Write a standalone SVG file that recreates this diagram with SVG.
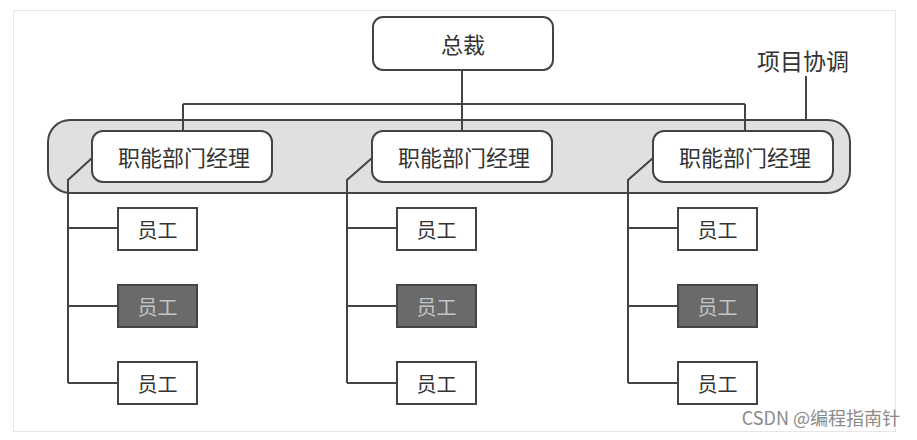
<svg xmlns="http://www.w3.org/2000/svg" width="917" height="440" viewBox="0 0 917 440">
<style>
.ln{stroke:#444;stroke-width:2;fill:none}
.bx{fill:#fff;stroke:#444;stroke-width:2}
.dk{fill:#6a6a6a;stroke:#444;stroke-width:2}
.t{font-family:"Noto Sans CJK SC","Noto Sans CJK JP",sans-serif;font-size:20px;fill:#333;text-anchor:middle;dominant-baseline:central}
.big{font-size:22px}
.tl{fill:#c4c4c4}
</style>
<rect x="0" y="0" width="917" height="440" fill="#fff"/>
<rect x="13.5" y="10.5" width="882" height="421" fill="none" stroke="#e6e6e6" stroke-width="1"/>
<g id="band"><rect x="48" y="120" width="802" height="73" rx="22" fill="#e0e0e0" stroke="#444" stroke-width="2"/></g>
<g id="connectors">
<path class="ln" d="M462 70V104M183 104H745M183 104V131M462 104V131M745 104V131"/>
<path class="ln" d="M806 76V120"/>
<path class="ln" d="M92 158L68 180V383M68 228H118M68 306H118M68 383H118"/>
<path class="ln" d="M372 158L347 180V383M347 228H397M347 306H397M347 383H397"/>
<path class="ln" d="M653 158L628 180V383M628 228H678M628 306H678M628 383H678"/>
</g>
<g id="ceo"><rect class="bx" x="373" y="17" width="180" height="53" rx="10"/><text class="t big" x="463" y="43">总裁</text></g>
<g id="coord"><text class="t" x="803" y="60" style="font-size:23px">项目协调</text></g>
<g id="mgr1"><rect class="bx" x="92" y="131" width="180" height="51" rx="11"/><text class="t big" x="184" y="156">职能部门经理</text></g>
<g id="mgr2"><rect class="bx" x="372" y="131" width="180" height="51" rx="11"/><text class="t big" x="464" y="156">职能部门经理</text></g>
<g id="mgr3"><rect class="bx" x="653" y="131" width="180" height="51" rx="11"/><text class="t big" x="745" y="156">职能部门经理</text></g>
<g id="e11"><rect class="bx" x="118" y="208" width="79" height="42"/><text class="t" x="157.5" y="229">员工</text></g>
<g id="e12"><rect class="dk" x="118" y="285" width="79" height="42"/><text class="t tl" x="157.5" y="306">员工</text></g>
<g id="e13"><rect class="bx" x="118" y="362" width="79" height="42"/><text class="t" x="157.5" y="383">员工</text></g>
<g id="e21"><rect class="bx" x="397" y="208" width="79" height="42"/><text class="t" x="436.5" y="229">员工</text></g>
<g id="e22"><rect class="dk" x="397" y="285" width="79" height="42"/><text class="t tl" x="436.5" y="306">员工</text></g>
<g id="e23"><rect class="bx" x="397" y="362" width="79" height="42"/><text class="t" x="436.5" y="383">员工</text></g>
<g id="e31"><rect class="bx" x="678" y="208" width="79" height="42"/><text class="t" x="717.5" y="229">员工</text></g>
<g id="e32"><rect class="dk" x="678" y="285" width="79" height="42"/><text class="t tl" x="717.5" y="306">员工</text></g>
<g id="e33"><rect class="bx" x="678" y="362" width="79" height="42"/><text class="t" x="717.5" y="383">员工</text></g>
<text x="900" y="425" font-family="'Noto Sans CJK SC','Noto Sans',sans-serif" font-size="18" fill="#8a8a8a" text-anchor="end">CSDN @编程指南针</text>
</svg>
